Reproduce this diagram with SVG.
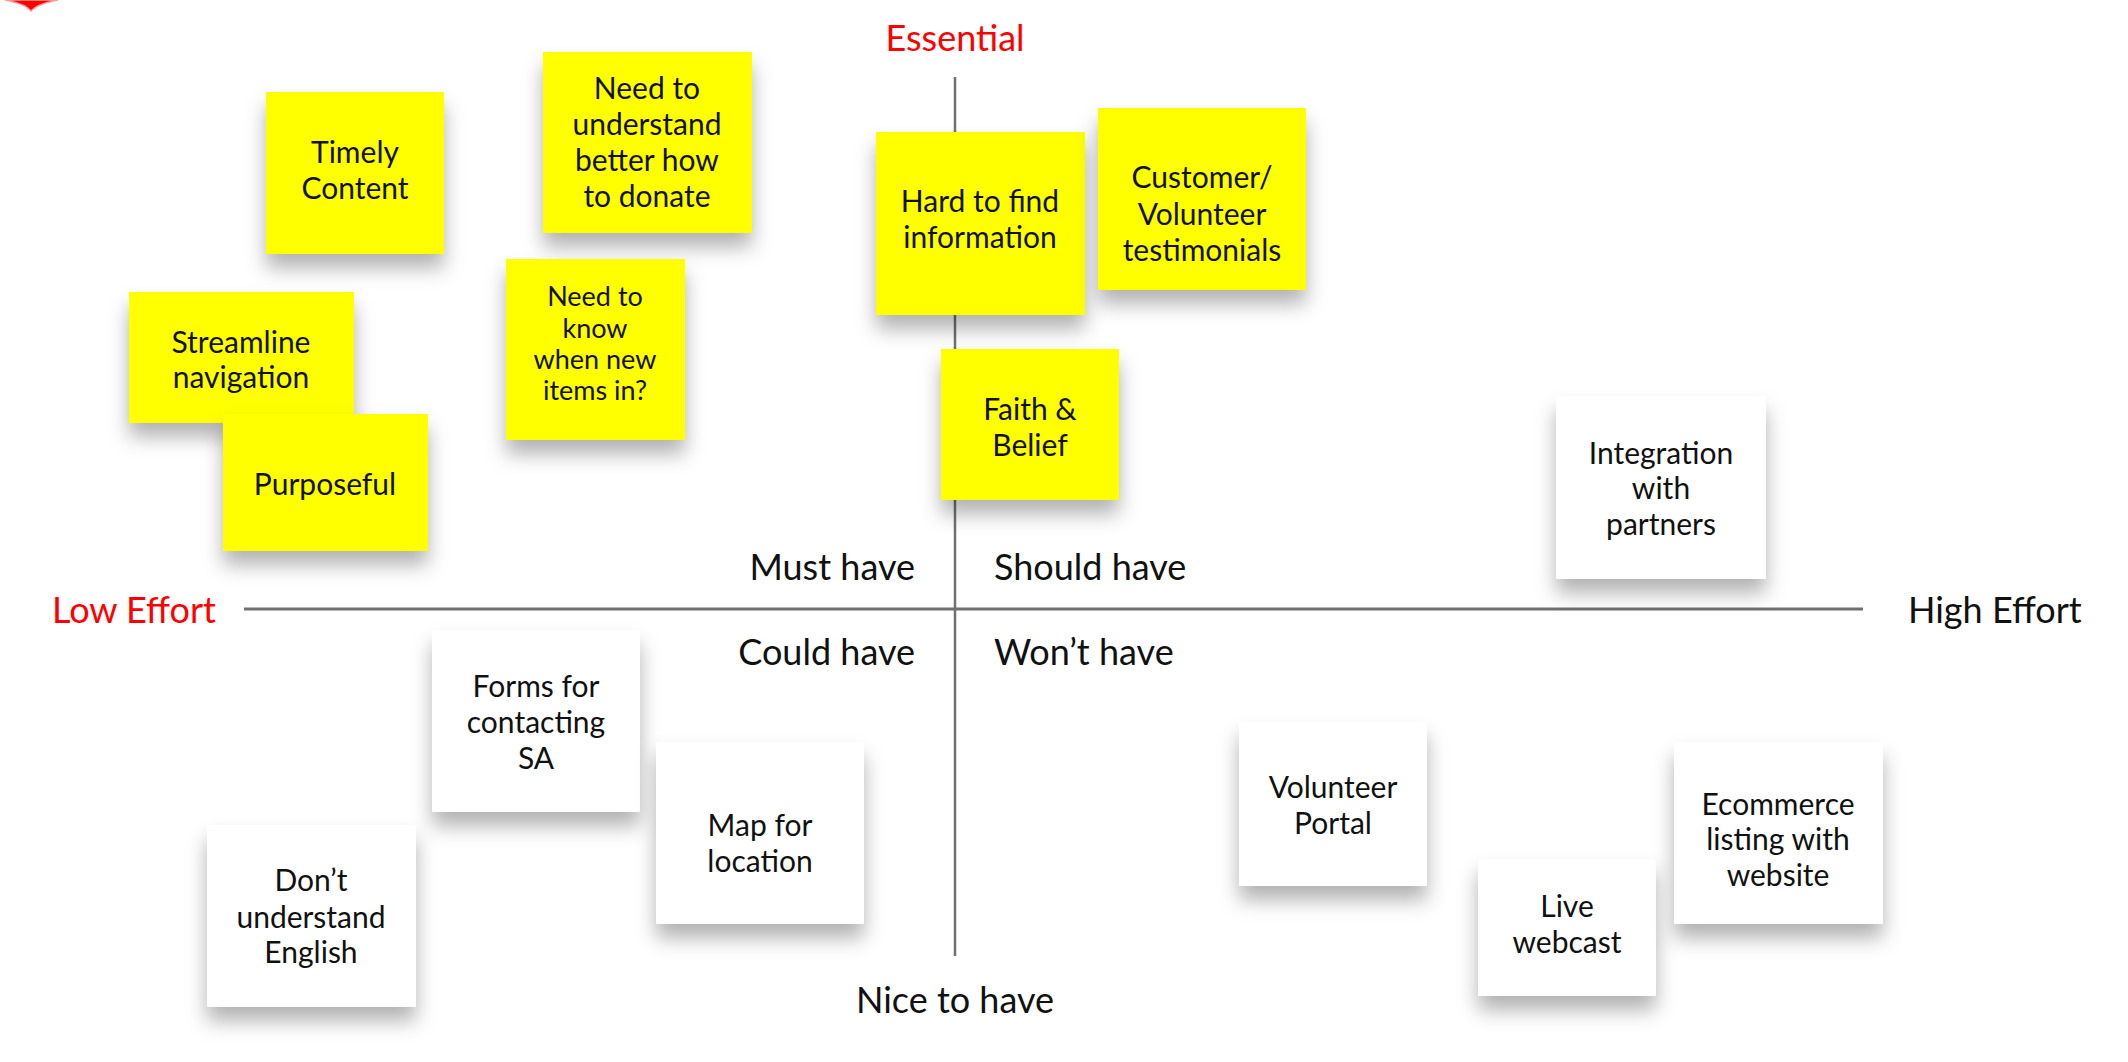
<svg xmlns="http://www.w3.org/2000/svg" width="2128" height="1062" viewBox="0 0 2128 1062">
  <defs>
    <filter id="lift" x="-30%" y="-30%" width="160%" height="170%">
      <feDropShadow dx="0" dy="14" stdDeviation="10" flood-color="#000" flood-opacity="0.3"/>
    </filter>
    <style>
      .note-y { fill: #ffff00; filter: url(#lift); }
      .note-w { fill: #ffffff; filter: url(#lift); }
      .nt { font-family: Lato, "Liberation Sans", sans-serif; font-size: 30px; fill: #111; text-anchor: middle; }
      .nt-s { font-size: 27px; }
      .q { font-family: Lato, "Liberation Sans", sans-serif; font-size: 36px; fill: #111; }
      .ax { font-family: Lato, "Liberation Sans", sans-serif; font-size: 36px; }
      .red { fill: #ff0000; }
      .blk { fill: #111; }
      .axis { stroke: #707070; fill: none; }
    </style>
  </defs>

  <rect width="2128" height="1062" fill="#ffffff"/>

  <!-- corner marker -->
  <path d="M5,0 Q26,4 31,11 Q37,4 58,0 Z" fill="#ff0000" stroke="#ff9a9a" stroke-width="1.5"/>

  <!-- axes -->
  <g id="connectors">
    <line class="axis" x1="244" y1="609" x2="1863" y2="609" stroke-width="3"/>
    <line class="axis" x1="955" y1="77" x2="955" y2="956" stroke-width="2.5"/>
  </g>

  <!-- axis labels -->
  <g id="axis-labels">
    <text class="ax red" x="955" y="51" text-anchor="middle">Essential</text>
    <text class="ax red" x="52" y="623">Low Effort</text>
    <text class="ax blk" x="1908" y="623">High Effort</text>
    <text class="ax blk" x="955" y="1013" text-anchor="middle">Nice to have</text>
  </g>

  <!-- quadrant labels -->
  <g id="quadrant-labels">
    <text class="q" x="915" y="580" text-anchor="end">Must have</text>
    <text class="q" x="994" y="580">Should have</text>
    <text class="q" x="915" y="665" text-anchor="end">Could have</text>
    <text class="q" x="994" y="665">Won’t have</text>
  </g>

  <!-- yellow notes -->
  <g id="timely-content">
    <rect class="note-y" x="266" y="92" width="178" height="162"/>
    <text class="nt" x="355" y="163">Timely</text>
    <text class="nt" x="355" y="199">Content</text>
  </g>
  <g id="understand-donate">
    <rect class="note-y" x="543" y="52" width="209" height="181"/>
    <text class="nt" x="647" y="99">Need to</text>
    <text class="nt" x="647" y="135">understand</text>
    <text class="nt" x="647" y="171">better how</text>
    <text class="nt" x="647" y="207">to donate</text>
  </g>
  <g id="streamline-navigation">
    <rect class="note-y" x="129" y="292" width="225" height="131"/>
    <text class="nt" x="241" y="353">Streamline</text>
    <text class="nt" x="241" y="388">navigation</text>
  </g>
  <g id="purposeful">
    <rect class="note-y" x="223" y="414" width="205" height="137"/>
    <text class="nt" x="325" y="495">Purposeful</text>
  </g>
  <g id="know-new-items">
    <rect class="note-y" x="506" y="259" width="179" height="181"/>
    <text class="nt nt-s" x="595" y="306">Need to</text>
    <text class="nt nt-s" x="595" y="338">know</text>
    <text class="nt nt-s" x="595" y="369">when new</text>
    <text class="nt nt-s" x="595" y="400">items in?</text>
  </g>
  <g id="hard-to-find">
    <rect class="note-y" x="876" y="132" width="209" height="183"/>
    <text class="nt" x="980" y="212">Hard to find</text>
    <text class="nt" x="980" y="248">information</text>
  </g>
  <g id="testimonials">
    <rect class="note-y" x="1098" y="108" width="208" height="182"/>
    <text class="nt" x="1202" y="188">Customer/</text>
    <text class="nt" x="1202" y="225">Volunteer</text>
    <text class="nt" x="1202" y="261">testimonials</text>
  </g>
  <g id="faith-belief">
    <rect class="note-y" x="941" y="349" width="178" height="151"/>
    <text class="nt" x="1030" y="420">Faith &amp;</text>
    <text class="nt" x="1030" y="456">Belief</text>
  </g>

  <!-- white notes -->
  <g id="integration-partners">
    <rect class="note-w" x="1556" y="396" width="210" height="183"/>
    <text class="nt" x="1661" y="464">Integration</text>
    <text class="nt" x="1661" y="499">with</text>
    <text class="nt" x="1661" y="535">partners</text>
  </g>
  <g id="forms-contacting">
    <rect class="note-w" x="432" y="630" width="208" height="182"/>
    <text class="nt" x="536" y="697">Forms for</text>
    <text class="nt" x="536" y="733">contacting</text>
    <text class="nt" x="536" y="769">SA</text>
  </g>
  <g id="map-location">
    <rect class="note-w" x="656" y="742" width="208" height="182"/>
    <text class="nt" x="760" y="836">Map for</text>
    <text class="nt" x="760" y="872">location</text>
  </g>
  <g id="dont-understand-english">
    <rect class="note-w" x="207" y="825" width="209" height="182"/>
    <text class="nt" x="311" y="891">Don’t</text>
    <text class="nt" x="311" y="928">understand</text>
    <text class="nt" x="311" y="963">English</text>
  </g>
  <g id="volunteer-portal">
    <rect class="note-w" x="1239" y="722" width="188" height="164"/>
    <text class="nt" x="1333" y="798">Volunteer</text>
    <text class="nt" x="1333" y="834">Portal</text>
  </g>
  <g id="live-webcast">
    <rect class="note-w" x="1478" y="859" width="178" height="137"/>
    <text class="nt" x="1567" y="917">Live</text>
    <text class="nt" x="1567" y="953">webcast</text>
  </g>
  <g id="ecommerce-listing">
    <rect class="note-w" x="1674" y="742" width="209" height="182"/>
    <text class="nt" x="1778" y="815">Ecommerce</text>
    <text class="nt" x="1778" y="850">listing with</text>
    <text class="nt" x="1778" y="886">website</text>
  </g>
</svg>
